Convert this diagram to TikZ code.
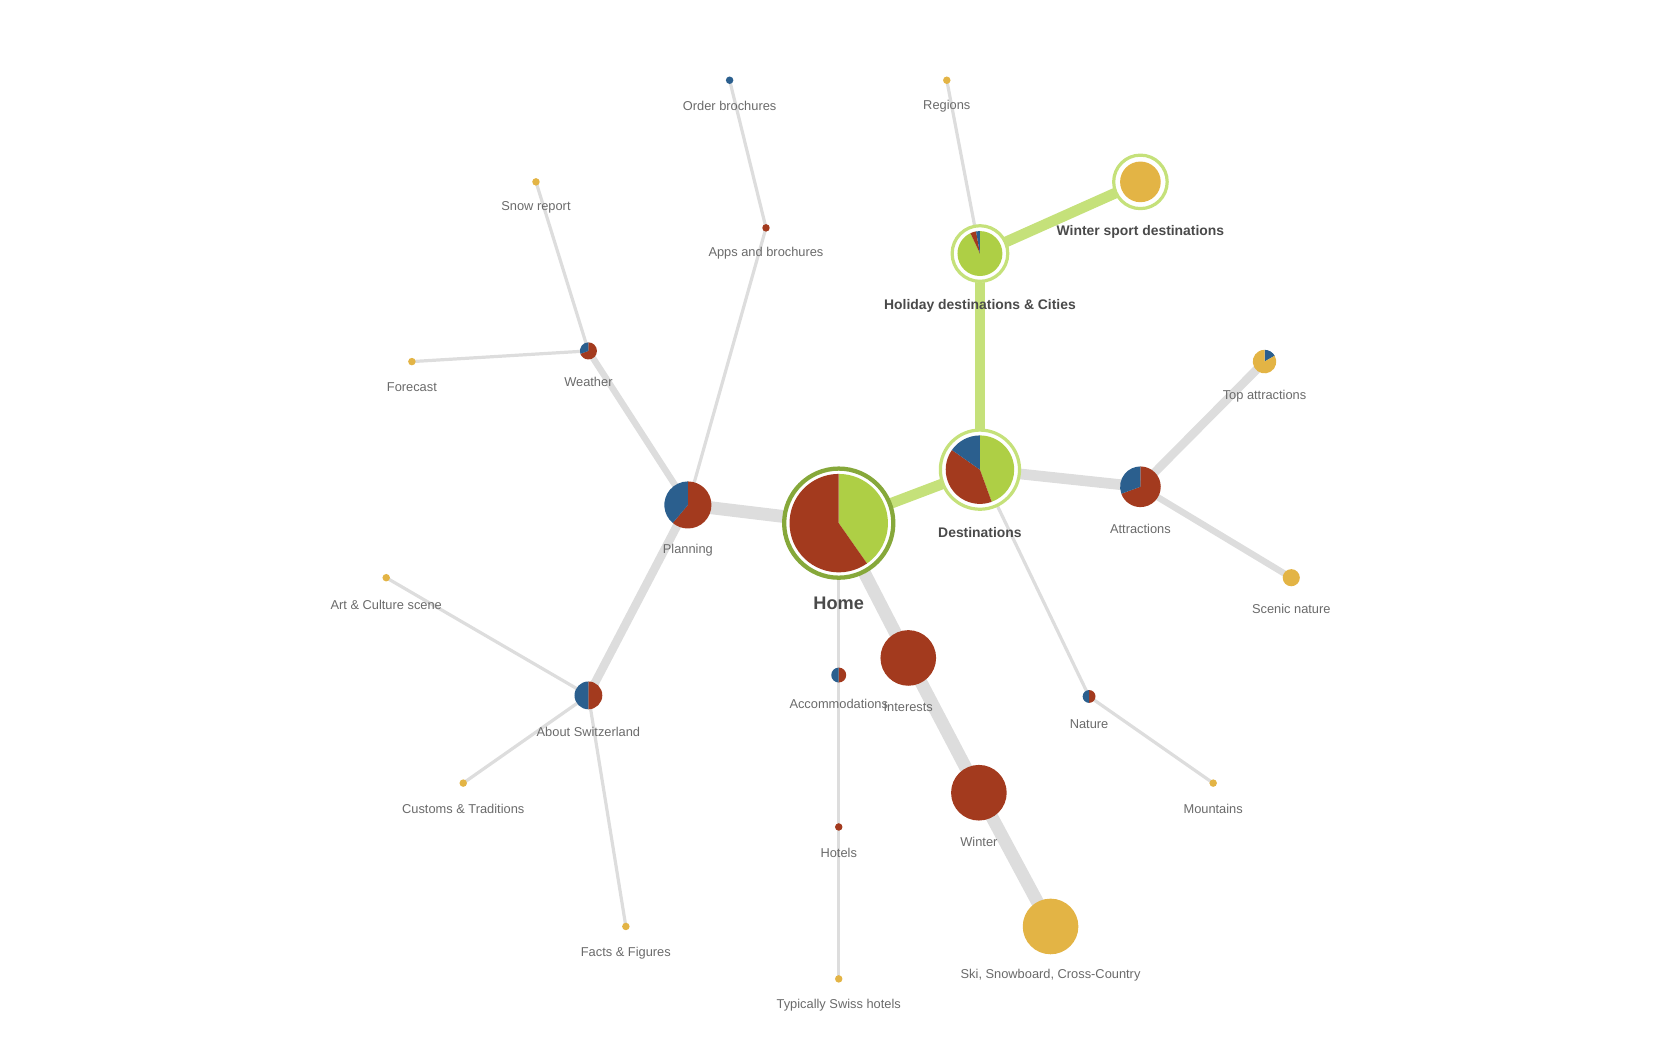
\documentclass[tikz,border=0pt]{standalone}
\usepackage{fontspec}
\setmainfont{Liberation Sans}
\definecolor{cr}{HTML}{A33A1E}
\definecolor{cg}{HTML}{AECF45}
\definecolor{cb}{HTML}{2B5F8E}
\definecolor{cy}{HTML}{E3B445}
\definecolor{cgrey}{HTML}{DDDDDD}
\definecolor{lg}{HTML}{C5E17A}
\definecolor{dg}{HTML}{86A83A}
\definecolor{tx}{HTML}{6A6A6A}
\definecolor{tb}{HTML}{4A4A4A}
\newcommand{\slc}[5]{\fill[#5] (#1) -- ++({-(#3)}:#2) arc[start angle={-(#3)}, end angle={-(#4)}, radius=#2] -- cycle;}
\tikzset{lab/.style={text=tx,font=\fontsize{12}{14}\selectfont},
blab/.style={text=tb,font=\bfseries\fontsize{13}{15}\selectfont},
e/.style={draw=cgrey,line width=#1},
ge/.style={draw=lg,line width=#1}}
\begin{document}
\begin{tikzpicture}[x=1pt,y=-1pt]
\useasboundingbox (0,0) rectangle (1547,979);
\coordinate (home) at (784,489);
\coordinate (dest) at (916,439);
\coordinate (hol) at (916,237);
\coordinate (ws) at (1066,170);
\coordinate (plan) at (643,472);
\coordinate (attr) at (1066,455);
\coordinate (top) at (1182,338);
\coordinate (scen) at (1207,540);
\coordinate (nat) at (1018,651);
\coordinate (mount) at (1134,732);
\coordinate (int) at (849,615);
\coordinate (win) at (915,741);
\coordinate (ski) at (982,866);
\coordinate (acc) at (784,631);
\coordinate (hot) at (784,773);
\coordinate (tsh) at (784,915);
\coordinate (wea) at (550,328);
\coordinate (fore) at (385,338);
\coordinate (snow) at (501,170);
\coordinate (apps) at (716,213);
\coordinate (ord) at (682,75);
\coordinate (reg) at (885,75);
\coordinate (about) at (550,650);
\coordinate (art) at (361,540);
\coordinate (cust) at (433,732);
\coordinate (fact) at (585,866);
% edges
\draw[e=12] (home) -- (plan);
\draw[e=12] (home) -- (int);
\draw[e=12] (int) -- (win);
\draw[e=12] (win) -- (ski);
\draw[e=3] (home) -- (acc);
\draw[e=3] (acc) -- (hot);
\draw[e=3] (hot) -- (tsh);
\draw[e=10] (dest) -- (attr);
\draw[e=8] (attr) -- (top);
\draw[e=6] (attr) -- (scen);
\draw[e=3] (dest) -- (nat);
\draw[e=3] (nat) -- (mount);
\draw[e=6] (plan) -- (wea);
\draw[e=8] (plan) -- (about);
\draw[e=3] (plan) -- (apps);
\draw[e=3] (wea) -- (snow);
\draw[e=3] (wea) -- (fore);
\draw[e=3] (apps) -- (ord);
\draw[e=3] (hol) -- (reg);
\draw[e=3] (about) -- (art);
\draw[e=3] (about) -- (cust);
\draw[e=3] (about) -- (fact);
\draw[ge=10] (home) -- (dest);
\draw[ge=10] (dest) -- (hol);
\draw[ge=10] (hol) -- (ws);
% pies
\fill[white] (home) circle (52);
\draw[dg,line width=4] (home) circle (51);
\slc{home}{46}{90}{-55}{cg}\slc{home}{46}{-55}{-270}{cr}
\fill[white] (dest) circle (38);
\draw[lg,line width=3] (dest) circle (37);
\slc{dest}{32}{90}{-70}{cg}\slc{dest}{32}{-70}{-215}{cr}\slc{dest}{32}{-215}{-270}{cb}
\fill[white] (hol) circle (27);
\draw[lg,line width=3] (hol) circle (26);
\slc{hol}{21}{90}{-245}{cg}\slc{hol}{21}{-245}{-260}{cr}\slc{hol}{21}{-260}{-270}{cb}
\fill[white] (ws) circle (26);
\draw[lg,line width=3] (ws) circle (25);
\fill[cy] (ws) circle (19);
\slc{plan}{22}{90}{-130}{cr}\slc{plan}{22}{-130}{-270}{cb}
\slc{attr}{19}{90}{-160}{cr}\slc{attr}{19}{-160}{-270}{cb}
\slc{top}{11}{90}{30}{cb}\slc{top}{11}{30}{-270}{cy}
\fill[cy] (scen) circle (8);
\slc{nat}{6}{90}{-90}{cr}\slc{nat}{6}{-90}{-270}{cb}
\fill[cy] (mount) circle (3.5);
\fill[cr] (int) circle (26);
\fill[cr] (win) circle (26);
\fill[cy] (ski) circle (26);
\slc{acc}{7}{90}{-90}{cr}\slc{acc}{7}{-90}{-270}{cb}
\fill[cr] (hot) circle (3.5);
\fill[cy] (tsh) circle (3.5);
\slc{wea}{8}{90}{-160}{cr}\slc{wea}{8}{-160}{-270}{cb}
\fill[cy] (fore) circle (3.5);
\fill[cy] (snow) circle (3.5);
\fill[cr] (apps) circle (3.5);
\fill[cb] (ord) circle (3.5);
\fill[cy] (reg) circle (3.5);
\slc{about}{13}{90}{-90}{cr}\slc{about}{13}{-90}{-270}{cb}
\fill[cy] (art) circle (3.5);
\fill[cy] (cust) circle (3.5);
\fill[cy] (fact) circle (3.5);
% labels
\node[text=tb,font=\bfseries\fontsize{17}{19}\selectfont] (lhome) at (784,564) {Home};
\node[blab] (ldest) at (916,498) {Destinations};
\node[blab] (lhol) at (916,286) {Holiday destinations \& Cities};
\node[blab] (lws) at (1066,217) {Winter sport destinations};
\node[lab] (lplan) at (643,514) {Planning};
\node[lab] (lattr) at (1066,494) {Attractions};
\node[lab] (ltop) at (1182,370) {Top attractions};
\node[lab] (lscen) at (1207,569) {Scenic nature};
\node[lab] (lnat) at (1018,677) {Nature};
\node[lab] (lmount) at (1134,756) {Mountains};
\node[lab] (lint) at (849,661) {Interests};
\node[lab] (lwin) at (915,787) {Winter};
\node[lab] (lski) at (982,912) {Ski, Snowboard, Cross-Country};
\node[lab] (lacc) at (784,658) {Accommodations};
\node[lab] (lhot) at (784,797) {Hotels};
\node[lab] (ltsh) at (784,940) {Typically Swiss hotels};
\node[lab] (lwea) at (550,357) {Weather};
\node[lab] (lfore) at (385,362) {Forecast};
\node[lab] (lsnow) at (501,194) {Snow report};
\node[lab] (lapps) at (716,237) {Apps and brochures};
\node[lab] (lord) at (682,99) {Order brochures};
\node[lab] (lreg) at (885,99) {Regions};
\node[lab] (labout) at (550,684) {About Switzerland};
\node[lab] (lart) at (361,565) {Art \& Culture scene};
\node[lab] (lcust) at (433,756) {Customs \& Traditions};
\node[lab] (lfact) at (585,891) {Facts \& Figures};
\end{tikzpicture}
\end{document}
